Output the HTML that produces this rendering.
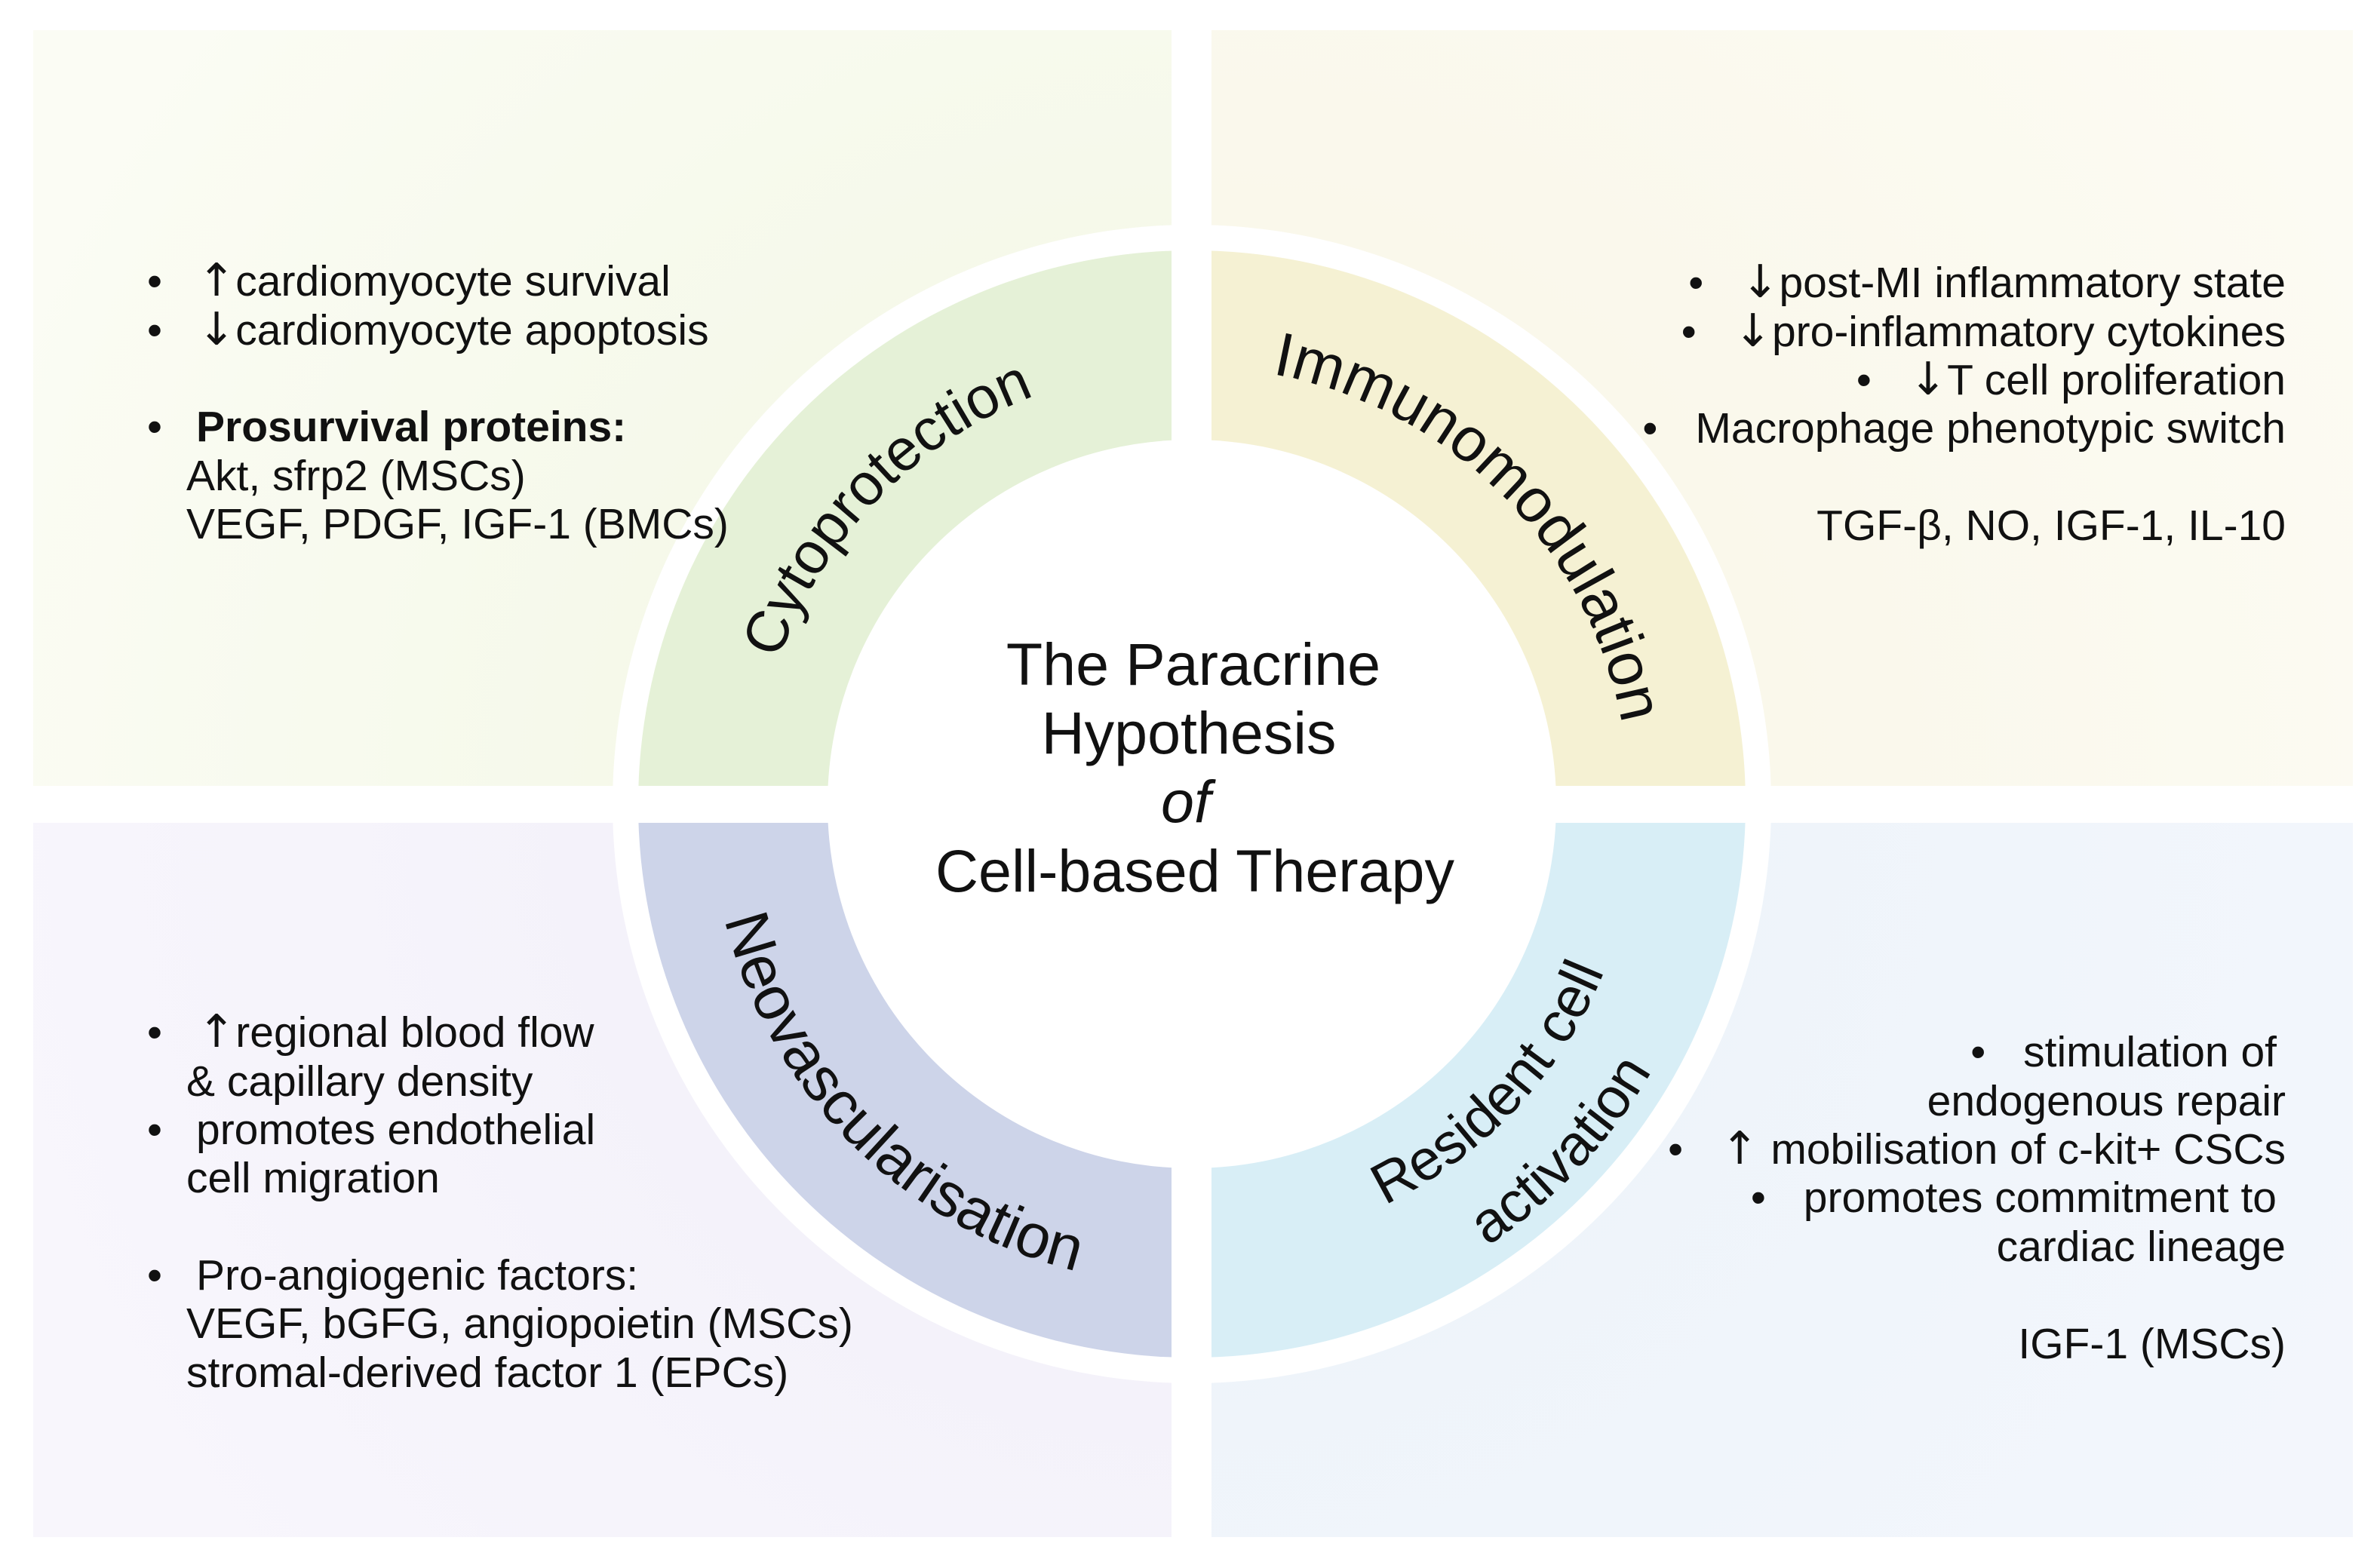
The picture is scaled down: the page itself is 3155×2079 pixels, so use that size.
<!DOCTYPE html>
<html><head><meta charset="utf-8"><style>
html,body{margin:0;padding:0;background:#fff;}
svg{display:block;}
text{font-family:"Liberation Sans","DejaVu Sans",sans-serif;fill:#111;}
.t{font-size:57px;}
.r{font-size:82px;}
.a{font-family:"DejaVu Sans",sans-serif;font-size:60px;}
</style></head><body>
<svg width="3155" height="2079" viewBox="0 0 3155 2079" xmlns="http://www.w3.org/2000/svg">
<defs>
<radialGradient id="gTL" cx="1580" cy="1066" r="1700" gradientUnits="userSpaceOnUse"><stop offset="0" stop-color="#f1f6e2"/><stop offset="1" stop-color="#fbfcf4"/></radialGradient>
<radialGradient id="gTR" cx="1580" cy="1066" r="1700" gradientUnits="userSpaceOnUse"><stop offset="0" stop-color="#f8f5e4"/><stop offset="1" stop-color="#fcfbf3"/></radialGradient>
<radialGradient id="gBL" cx="1580" cy="1066" r="1700" gradientUnits="userSpaceOnUse"><stop offset="0" stop-color="#f1eff9"/><stop offset="1" stop-color="#f8f6fc"/></radialGradient>
<radialGradient id="gBR" cx="1580" cy="1066" r="1700" gradientUnits="userSpaceOnUse"><stop offset="0" stop-color="#ebf3f9"/><stop offset="1" stop-color="#f3f6fc"/></radialGradient>
<path id="pTL" d="M1000,1066 A580,580 0 0 1 1580,486"/>
<path id="pTR" d="M1580,486 A580,580 0 0 1 2160,1066"/>
<path id="pBL" d="M942,1066 A638,638 0 0 0 1580,1704"/>
<path id="pBR1" d="M1580,1656 A590,590 0 0 0 2170,1066"/>
<path id="pBR2" d="M1580,1771 A705,705 0 0 0 2285,1066"/>
</defs>
<rect x="44" y="40" width="1509" height="1002" fill="url(#gTL)"/>
<rect x="1606" y="40" width="1513" height="1002" fill="url(#gTR)"/>
<rect x="44" y="1091" width="1509" height="947" fill="url(#gBL)"/>
<rect x="1606" y="1091" width="1513" height="947" fill="url(#gBR)"/>
<circle cx="1580" cy="1066" r="768" fill="#fff"/>
<path d="M1580,1066 L846,1066 A734,734 0 0 1 1580,332 Z" fill="#e5f1d7"/>
<path d="M1580,1066 L1580,332 A734,734 0 0 1 2314,1066 Z" fill="#f5f1d3"/>
<path d="M1580,1066 L846,1066 A734,734 0 0 0 1580,1800 Z" fill="#cdd4e9"/>
<path d="M1580,1066 L1580,1800 A734,734 0 0 0 2314,1066 Z" fill="#d8eef6"/>
<circle cx="1580" cy="1066" r="483" fill="#fff"/>
<rect x="1553" y="0" width="53" height="2079" fill="#fff"/>
<rect x="0" y="1042" width="3155" height="49" fill="#fff"/>

<text class="r" style="font-size:78px"><textPath href="#pTL" startOffset="49%" text-anchor="middle">Cytoprotection</textPath></text>
<text class="r"><textPath href="#pTR" startOffset="50%" text-anchor="middle">Immunomodulation</textPath></text>
<text class="r"><textPath href="#pBL" startOffset="50%" text-anchor="middle">Neovascularisation</textPath></text>
<text class="r" style="font-size:76px"><textPath href="#pBR1" startOffset="52%" text-anchor="middle">Resident cell</textPath></text>
<text class="r" style="font-size:76px"><textPath href="#pBR2" startOffset="52%" text-anchor="middle">activation</textPath></text>

<g text-anchor="middle">
<text x="1582" y="908" style="font-size:79px">The Paracrine</text>
<text x="1576" y="999" style="font-size:79px">Hypothesis</text>
<text x="1572" y="1090" style="font-size:79px;font-style:italic">of</text>
<text x="1584" y="1182" style="font-size:79px">Cell-based Therapy</text>
</g>

<text class="t" x="195" y="392">•</text><text class="t" x="262" y="392"><tspan class="a">↑</tspan>cardiomyocyte survival</text>
<text class="t" x="195" y="457">•</text><text class="t" x="262" y="457"><tspan class="a">↓</tspan>cardiomyocyte apoptosis</text>
<text class="t" x="195" y="585">•</text><text class="t" x="260" y="585" font-weight="bold">Prosurvival proteins:</text>
<text class="t" x="247" y="650">Akt, sfrp2 (MSCs)</text>
<text class="t" x="247" y="714">VEGF, PDGF, IGF-1 (BMCs)</text>

<text class="t" x="3030" y="394" text-anchor="end">•<tspan dx="50" class="a">↓</tspan>post-MI inflammatory state</text>
<text class="t" x="3030" y="459" text-anchor="end">•<tspan dx="50" class="a">↓</tspan>pro-inflammatory cytokines</text>
<text class="t" x="3030" y="523" text-anchor="end">•<tspan dx="50" class="a">↓</tspan>T cell proliferation</text>
<text class="t" x="3030" y="587" text-anchor="end">•<tspan dx="50">Macrophage phenotypic switch</tspan></text>
<text class="t" x="3030" y="716" text-anchor="end">TGF-β, NO, IGF-1, IL-10</text>

<text class="t" x="195" y="1388">•</text><text class="t" x="262" y="1388"><tspan class="a">↑</tspan>regional blood flow</text>
<text class="t" x="247" y="1453">&amp; capillary density</text>
<text class="t" x="195" y="1517">•</text><text class="t" x="260" y="1517">promotes endothelial</text>
<text class="t" x="247" y="1581">cell migration</text>
<text class="t" x="195" y="1710">•</text><text class="t" x="260" y="1710">Pro-angiogenic  factors:</text>
<text class="t" x="247" y="1774">VEGF, bGFG, angiopoietin (MSCs)</text>
<text class="t" x="247" y="1839">stromal-derived factor 1 (EPCs)</text>

<text class="t" x="3018" y="1414" text-anchor="end">•<tspan dx="50">stimulation of</tspan></text>
<text class="t" x="3030" y="1479" text-anchor="end">endogenous repair</text>
<text class="t" x="3030" y="1543" text-anchor="end">•<tspan dx="50" class="a">↑</tspan><tspan dx="16">mobilisation of c-kit+ CSCs</tspan></text>
<text class="t" x="3018" y="1607" text-anchor="end">•<tspan dx="50">promotes commitment to</tspan></text>
<text class="t" x="3030" y="1672" text-anchor="end">cardiac lineage</text>
<text class="t" x="3030" y="1801" text-anchor="end">IGF-1 (MSCs)</text>
</svg>
</body></html>
